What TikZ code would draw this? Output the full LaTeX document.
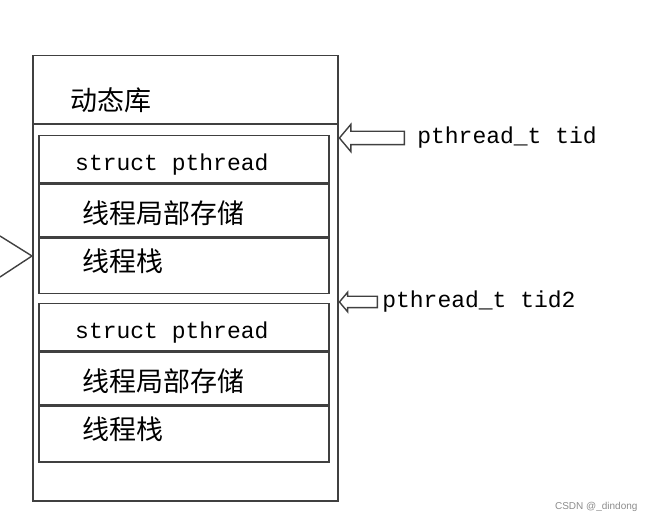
\documentclass[tikz,border=0pt]{standalone}
\usepackage{fontspec}
\setmonofont{Liberation Mono}
\setsansfont{Liberation Sans}
\newfontfamily\cjk{Noto Sans CJK SC}
\usetikzlibrary{positioning, shapes.arrows}

\tikzset{
  box/.style={draw=black!75, line width=1.5pt, inner sep=0pt},
  cjktext/.style={anchor=west, inner sep=0pt, font=\cjk\fontsize{27}{31}\selectfont},
  codetext/.style={anchor=west, inner sep=0pt, font=\ttfamily\fontsize{23}{27}\selectfont},
  ptrarrow/.style={single arrow, draw=black!75, line width=1.4pt, inner xsep=0pt,
    shape border rotate=180, single arrow tip angle=100}
}

\begin{document}
\begin{tikzpicture}[x=1pt,y=-1pt]
  \useasboundingbox (0,0) rectangle (648,518);
  \node[box, minimum width=305pt, minimum height=445pt, anchor=north west] (lib) at (32,55) {};
  \draw[box] (32,124) -- (337,124);
  \node[cjktext] (libname) at (70,100) {动态库};
  \foreach \t/\y/\d/\n/\s/\e/\l/\g in {1/135/3/tid/6/7/65/12, 2/303/-1/tid2/5/4/38/4}
  {
    \node[box, minimum width=290pt, minimum height=47pt, anchor=north west] (hdr\t) at (38,\y) {};
    \node[box, minimum width=290pt, minimum height=53pt, anchor=north] (tls\t) at (hdr\t.south) {};
    \node[box, minimum width=290pt, minimum height=55pt, anchor=north] (stk\t) at (tls\t.south) {};
    \node[codetext] at (75,\y+30) {struct pthread};
    \node[cjktext] at (82,\y+78) {线程局部存储};
    \node[cjktext] at (82,\y+126) {线程栈};
    \node[ptrarrow, inner ysep=\s pt, single arrow head extend=\e pt, minimum height=\l pt, anchor=tip] (arr\t) at (lib.east |- 0,\y+\d) {};
    \node[codetext, right=\g pt of arr\t.tail] (ptr\t) {pthread\_t \n};
  }
  \draw[black!75, line width=1.4pt] (0,236) -- (lib.west |- 0,256) -- (0,277);
  \node[anchor=east, text=black!45, font=\sffamily\fontsize{10}{12}\selectfont] (mark) at (641,507) {CSDN @\_dindong};
\end{tikzpicture}
\end{document}
